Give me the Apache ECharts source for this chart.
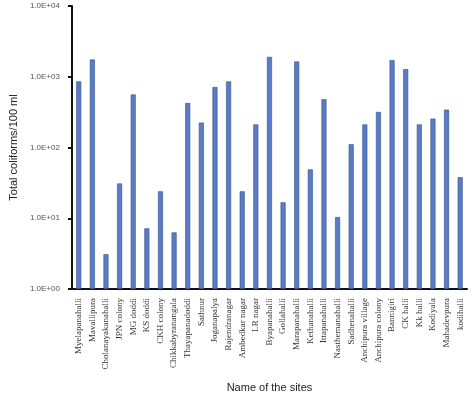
<!DOCTYPE html>
<html>
<head>
<meta charset="utf-8">
<script src="https://cdn.jsdelivr.net/npm/echarts@6/dist/echarts.min.js"></script>
<style>
html,body{margin:0;padding:0;background:#fff;}
#chart{width:474px;height:398px;}
</style>
</head>
<body>
<div id="chart"></div>
<script>
var sites = ['Myelapanahalli', 'Mavallipura', 'Cholanayakanahalli', 'JPN colony', 'MG doddi', 'KS doddi',
	'CKH colony', 'Chikkabyranangala', 'Thayapanadoddi', 'Sathnur', 'Joganapalya', 'Rajendranagar',
	'Ambedkar nagar', 'LR nagar', 'Byapanahalli', 'Gollahalli', 'Marapanahalli', 'Kethanahalli',
	'Ittapanahalli', 'Nasthemanahalli', 'Sadhenahalli', 'Anchipura village', 'Anchipura colony',
	'Bannigiri', 'CK halli', 'Kk halli', 'Kodiyala', 'Mahadevpura', 'kodihalli'];
var coliforms = [860, 1750, 3.1, 31, 560, 7.2, 24, 6.3, 425, 225, 716, 860, 24, 212, 1910,
	16.8, 1640, 49, 480, 10.4, 111, 212, 318, 1720, 1280, 212, 256, 343, 38];

var myChart = echarts.init(document.getElementById('chart'));
var option = {
	backgroundColor: '#fff',
	animation: false,
	grid: {
		left: 70,
		right: 7,
		top: 6,
		bottom: 109
	},
	xAxis: {
		type: 'category',
		data: sites,
		name: 'Name of the sites',
		nameLocation: 'middle',
		nameGap: 93,
		nameTextStyle: {
			fontFamily: 'Liberation Sans',
			fontSize: 11,
			color: '#222'
		},
		axisLine: {
			lineStyle: { color: '#111', width: 2 }
		},
		axisTick: { show: false },
		axisLabel: {
			rotate: 90,
			interval: 0,
			margin: 9,
			fontFamily: 'Liberation Serif',
			fontSize: 9,
			color: '#333'
		}
	},
	yAxis: {
		type: 'log',
		logBase: 10,
		min: 1,
		max: 10000,
		name: 'Total coliforms/100 ml',
		nameLocation: 'middle',
		nameGap: 47,
		nameTextStyle: {
			fontFamily: 'Liberation Sans',
			fontSize: 11,
			color: '#222'
		},
		axisLine: {
			show: true,
			lineStyle: { color: '#111', width: 2 }
		},
		axisTick: {
			show: true,
			inside: false,
			length: 4,
			lineStyle: { color: '#111', width: 2 }
		},
		splitLine: { show: false },
		axisLabel: {
			margin: 12,
			fontFamily: 'Liberation Sans',
			fontSize: 8,
			color: '#555',
			formatter: function (v) {
				var e = Math.round(Math.log10(v));
				return '1.0E+' + (e < 10 ? '0' : '') + e;
			}
		}
	},
	series: [{
		type: 'bar',
		data: coliforms,
		barWidth: 5,
		itemStyle: {
			color: '#5a7cc6',
			borderColor: '#34508a',
			borderWidth: 0.6
		}
	}]
};
myChart.setOption(option);
</script>
</body>
</html>
